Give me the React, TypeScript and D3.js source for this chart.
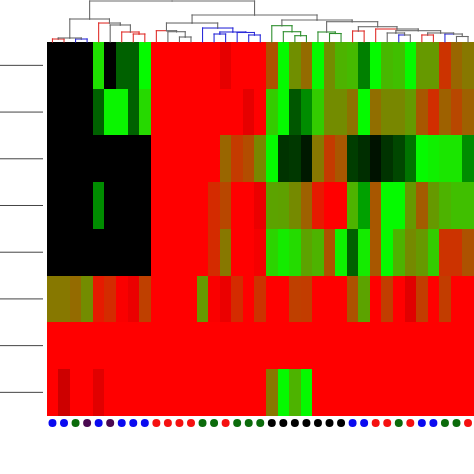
import * as d3 from 'd3'

const W = 474
const H = 474

// heatmap rows (top to bottom), 37 samples each
const row1 = [-1, -1, -1, -1, 0.12, -1, -0.62, -0.62, 0.02, 1, 1, 1, 1, 1, 1, 1.1, 1, 1, 1, 0.68, 0.02, 0.44, 0.58, 0.02, 0.45, 0.3, 0.27, -0.5, 0.02, 0.28, 0.25, 0.02, 0.4, 0.4, 0.8, 0.6, 0.53]
const row2 = [-1, -1, -1, -1, -0.62, 0.04, 0.04, -0.62, 0.15, 1, 1, 1, 1, 1, 1, 1, 1, 1.1, 1, 0.2, 0.02, -0.66, -0.45, 0.2, 0.45, 0.45, 0.55, 0.02, 0.57, 0.47, 0.47, 0.4, 0.66, 0.82, 0.62, 0.72, 0.62]
const row3 = [-1, -1, -1, -1, -1, -1, -1, -1, -1, 1, 1, 1, 1, 1, 1, 0.6, 0.77, 0.7, 0.47, 0.02, -0.8, -0.78, -0.9, 0.53, 0.77, 0.66, -0.76, -0.82, -0.93, -0.8, -0.72, -0.55, 0.02, 0.06, 0.1, 0.1, -0.45]
const row4 = [-1, -1, -1, -1, -0.45, -1, -1, -1, -1, 1, 1, 1, 1, 1, 0.83, 0.72, 1, 1, 1.08, 0.36, 0.37, 0.46, 0.62, 0.9, 1, 1, 0.3, -0.37, 0.66, 0.02, 0.02, 0.4, 0.64, 0.4, 0.3, 0.25, 0.25]
const row5 = [-1, -1, -1, -1, -1, -1, -1, -1, -1, 1, 1, 1, 1, 1, 0.83, 0.53, 1, 1, 1.04, 0.17, 0.08, 0.14, 0.36, 0.3, 0.68, 0.05, -0.62, 0.08, 0.66, 0.02, 0.3, 0.46, 0.4, 0.2, 0.8, 0.8, 0.68]
const row6 = [0.53, 0.53, 0.58, 0.45, 0.9, 0.83, 1.02, 1.08, 0.75, 1, 1, 1, 1, 0.4, 1.02, 1.08, 0.83, 1, 0.8, 1, 1, 0.75, 0.76, 1, 1, 1, 0.68, 0.36, 1, 0.76, 1, 1.12, 0.76, 1, 0.76, 1, 1]
const row7 = [1, 1, 1, 1, 1, 1, 1, 1, 1, 1, 1, 1, 1, 1, 1, 1, 1, 1, 1, 1, 1, 1, 1, 1, 1, 1, 1, 1, 1, 1, 1, 1, 1, 1, 1, 1, 1]
const row8 = [1, 1.2, 1, 1, 1.12, 1, 1, 1, 1, 1, 1, 1, 1, 1, 1, 1, 1, 1, 1, 0.53, 0.02, 0.3, 0.02, 1, 1, 1, 1, 1, 1, 1, 1, 1, 1, 1, 1, 1, 1]
const ROWS = [row1, row2, row3, row4, row5, row6, row7, row8]

// sample class shown as dots under the heatmap
const sampleClass = ['B', 'B', 'G', 'P', 'B', 'P', 'B', 'B', 'B', 'R', 'R', 'R', 'R', 'G', 'G', 'R', 'G', 'G', 'G', 'K', 'K', 'K', 'K', 'K', 'K', 'K', 'B', 'B', 'R', 'R', 'G', 'R', 'B', 'B', 'G', 'G', 'R']

// branch group of each leaf in the dendrogram
const leafGroup = ['r', 'r', 'b', 'b', 'r', 'n', 'r', 'r', 'r', 'r', 'n', 'n', 'n', 'b', 'b', 'b', 'b', 'b', 'b', 'g', 'g', 'g', 'g', 'g', 'g', 'g', 'r', 'r', 'r', 'n', 'b', 'n', 'r', 'r', 'b', 'n', 'n']

// hclust style merges: negative = leaf (1-based), positive = earlier merge; [a, b, height]
const merges: [number, number, number][] = [
  [-1, -2, 0.73], [-3, -4, 0.73], [1, 2, 0.98], [-8, -9, 1.95], [-7, 4, 2.44],
  [-6, 5, 4.15], [-5, 6, 4.63], [3, 7, 5.61], [-12, -13, 1.22], [-11, 9, 2.51],
  [-10, 10, 2.76], [-15, -16, 1.95], [-18, -19, 1.71], [-17, 13, 2.32], [12, 14, 2.44],
  [-14, 15, 3.41], [11, 16, 4.63], [-22, -23, 1.54], [-21, 18, 2.51], [-20, 19, 3.98],
  [-25, -26, 2.07], [-24, 21, 2.44], [-27, -28, 2.68], [-31, -32, 1.71], [-30, 24, 2.2],
  [-33, -34, 1.71], [-36, -37, 1.34], [-35, 27, 1.95], [26, 28, 2.2], [25, 29, 2.76],
  [-29, 30, 3.17], [23, 31, 3.73], [22, 32, 4.95], [20, 33, 5.37], [17, 34, 6.59],
  [8, 35, 10],
]

const samples = sampleClass.map((_, i) => `S${i + 1}`)
const rowIds = ROWS.map((_, i) => `G${i + 1}`)

const x = d3.scaleBand<string>().domain(samples).range([46.7, 473.8])
const y = d3.scaleBand<string>().domain(rowIds).range([42, 415.7])
const hy = d3.scaleLinear().domain([0, 10]).range([42, 1])
const color = d3.scaleLinear<string>()
  .domain([-1, 0, 1, 1.25])
  .range(['#000000', '#00ff00', '#ff0000', '#c00000'])
const dotColor = d3.scaleOrdinal<string, string>()
  .domain(['B', 'G', 'P', 'R', 'K'])
  .range(['#0a0af0', '#0b6b0b', '#4a0850', '#f51010', '#000000'])
const branchColor = d3.scaleOrdinal<string, string>()
  .domain(['r', 'b', 'g', 'n'])
  .range(['#e0302c', '#2c2cd8', '#2f8f2f', '#6a6a6a'])

type Seg = { x1: number; y1: number; x2: number; y2: number; c: string }

function buildDendrogram() {
  const pos: number[] = []
  const hgt: number[] = []
  const grp: (string | null)[] = []
  const leafX = (i: number) => (x(samples[i]) as number) + x.bandwidth() / 2
  const px = (k: number) => (k < 0 ? leafX(-k - 1) : pos[k - 1])
  const ph = (k: number) => (k < 0 ? 0 : hgt[k - 1])
  const pg = (k: number) => (k < 0 ? leafGroup[-k - 1] : grp[k - 1])
  const segs: Seg[] = []
  merges.forEach(([a, b, h]) => {
    const mx = (px(a) + px(b)) / 2
    const ga = pg(a), gb = pg(b)
    const g = ga && ga === gb && ga !== 'n' ? ga : null
    pos.push(mx)
    hgt.push(h)
    grp.push(g)
    ;[a, b].forEach(c => {
      const cg = g ?? (c < 0 ? leafGroup[-c - 1] : 'n')
      const col = branchColor(cg)
      segs.push({ x1: mx, y1: hy(h), x2: px(c), y2: hy(h), c: col })
      segs.push({ x1: px(c), y1: hy(h), x2: px(c), y2: hy(ph(c)), c: col })
    })
  })
  return segs
}

export default function App() {
  const segs = buildDendrogram()
  return (
    <svg width={W} height={H} style={{ position: 'absolute', left: 0, top: 0, display: 'block', background: '#fff' }}>
      <g shapeRendering="crispEdges">
        {ROWS.map((vals, r) =>
          vals.map((v, c) => (
            <rect
              key={`${r}-${c}`}
              x={x(samples[c])}
              y={y(rowIds[r])}
              width={x.bandwidth() + 0.6}
              height={y.bandwidth() + 0.6}
              fill={color(v)}
            />
          ))
        )}
      </g>
      <g>
        {rowIds.map(id => (
          <line key={id} x1={0} x2={43} y1={(y(id) as number) + y.bandwidth() / 2} y2={(y(id) as number) + y.bandwidth() / 2} stroke="#444" strokeWidth={1} />
        ))}
      </g>
      <g fill="none" strokeWidth={1.1}>
        {segs.map((s, i) => (
          <line key={i} x1={s.x1} y1={s.y1} x2={s.x2} y2={s.y2} stroke={s.c} strokeLinecap="square" />
        ))}
      </g>
      <g>
        {sampleClass.map((k, i) => (
          <circle key={i} cx={(x(samples[i]) as number) + x.bandwidth() / 2} cy={423} r={4} fill={dotColor(k)} />
        ))}
      </g>
    </svg>
  )
}
